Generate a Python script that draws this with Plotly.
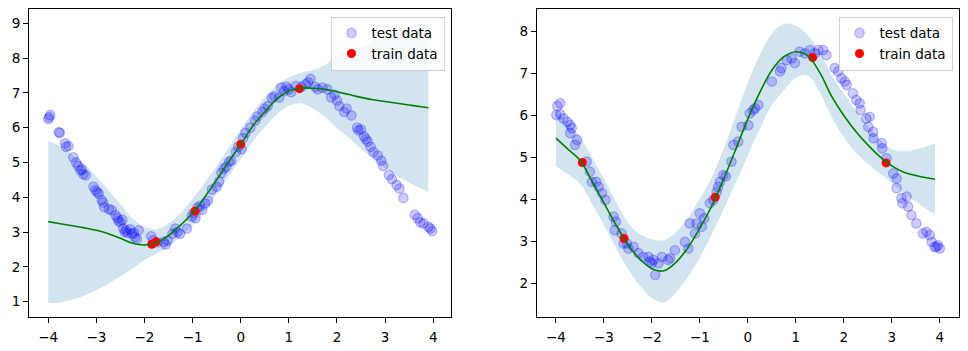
import plotly.graph_objects as go

# ---------------- data: left panel ----------------
left_test_x = [-4.0, -3.98, -3.96, -3.78, -3.76, -3.65, -3.63, -3.58, -3.48, -3.42, -3.38, -3.33, -3.3, -3.27,
               -3.22, -3.06, -3.02, -2.98, -2.95, -2.89, -2.86, -2.84, -2.74, -2.68, -2.6, -2.56, -2.54, -2.5,
               -2.46, -2.44, -2.41, -2.38, -2.35, -2.3, -2.26, -2.22, -2.2, -2.16, -2.12, -1.86, -1.82, -1.74,
               -1.6, -1.56, -1.52, -1.42, -1.36, -1.32, -1.26, -1.12, -1.02, -0.98, -0.94, -0.9, -0.85, -0.8,
               -0.74, -0.68, -0.6, -0.5, -0.45, -0.4, -0.35, -0.3, -0.24, -0.2, -0.1, -0.05, 0.02, 0.05, 0.1,
               0.2, 0.3, 0.35, 0.45, 0.5, 0.56, 0.65, 0.7, 0.8, 0.84, 0.9, 0.95, 1.0, 1.05, 1.15, 1.26, 1.35,
               1.4, 1.45, 1.55, 1.6, 1.7, 1.8, 1.88, 1.95, 2.0, 2.05, 2.15, 2.2, 2.3, 2.42, 2.45, 2.5, 2.56,
               2.6, 2.64, 2.7, 2.76, 2.85, 2.92, 2.96, 3.08, 3.14, 3.24, 3.3, 3.38, 3.62, 3.68, 3.73, 3.8, 3.9,
               3.94, 3.98]
left_test_y = [6.25, 6.3, 6.36, 5.87, 5.85, 5.55, 5.45, 5.47, 5.15, 5.0, 4.9, 4.77, 4.8, 4.66,
               4.63, 4.3, 4.2, 4.15, 4.1, 3.92, 3.85, 3.72, 3.66, 3.63, 3.48, 3.4, 3.32, 3.28,
               3.35, 3.1, 3.0, 3.05, 2.98, 3.08, 2.95, 2.97, 2.85, 2.8, 3.05, 2.88, 2.76, 2.7,
               2.72, 2.64, 2.76, 2.95, 3.1, 3.0, 2.95, 3.1, 3.45, 3.55, 3.4, 3.7, 3.75, 3.64,
               3.82, 3.9, 4.22, 4.3, 4.45, 4.7, 4.82, 4.88, 5.02, 5.05, 5.3, 5.45, 5.38, 5.7, 5.85,
               6.0, 6.2, 6.32, 6.45, 6.55, 6.62, 6.85, 6.9, 6.86, 7.15, 7.05, 7.18, 7.1, 7.02, 7.2, 7.17, 7.25,
               7.3, 7.4, 7.17, 7.1, 7.15, 7.1, 6.87, 6.95, 6.78, 6.62, 6.45, 6.55, 6.35, 6.0, 5.92, 5.95, 5.75,
               5.67, 5.6, 5.45, 5.3, 5.2, 5.05, 4.9, 4.64, 4.52, 4.35, 4.25, 3.98, 3.5, 3.4, 3.28, 3.25, 3.15,
               3.1, 3.03]
left_train_x = [-1.85, -1.76, -0.95, 0.0, 1.22]
left_train_y = [2.65, 2.72, 3.6, 5.52, 7.12]

grid_x = [-4.0, -3.75, -3.5, -3.25, -3.0, -2.75, -2.5, -2.25, -2.0, -1.75, -1.5, -1.25, -1.0, -0.75,
          -0.5, -0.25, 0.0, 0.25, 0.5, 0.75, 1.0, 1.25, 1.5, 1.75, 2.0, 2.25, 2.5, 2.75, 3.0, 3.25,
          3.5, 3.75, 3.9]
left_mean = [3.3, 3.24, 3.18, 3.12, 3.05, 2.95, 2.82, 2.68, 2.63, 2.7, 2.9, 3.2, 3.55, 4.0,
             4.5, 5.02, 5.52, 6.05, 6.45, 6.82, 7.05, 7.14, 7.13, 7.1, 7.03, 6.95, 6.87, 6.8, 6.75, 6.7,
             6.65, 6.6, 6.57]
left_upper = [5.62, 5.45, 5.22, 4.95, 4.6, 4.2, 3.8, 3.4, 3.15, 3.08, 3.25, 3.55, 3.95, 4.42,
              4.9, 5.42, 5.95, 6.45, 6.88, 7.22, 7.45, 7.58, 7.65, 7.8, 8.05, 8.2, 8.35, 8.5, 8.65, 8.78,
              8.88, 8.95, 8.98]
left_lower = [0.96, 0.98, 1.06, 1.18, 1.33, 1.52, 1.72, 1.95, 2.2, 2.38, 2.58, 2.85, 3.2, 3.6,
              4.1, 4.6, 5.1, 5.6, 6.02, 6.38, 6.62, 6.7, 6.55, 6.3, 6.0, 5.7, 5.4, 5.1, 4.85, 4.62,
              4.42, 4.25, 4.16]

# ---------------- data: right panel ----------------
right_test_x = [-3.99, -3.97, -3.91, -3.91, -3.84, -3.76, -3.7, -3.67, -3.7, -3.56, -3.6, -3.36, -3.29,
                -3.25, -3.16, -3.11, -3.04, -2.97, -2.8, -2.75, -2.77, -2.63, -2.59, -2.52, -2.49, -2.38,
                -2.28, -2.18, -2.07, -2.04, -1.97, -2.0, -1.93, -1.79, -1.86, -1.66, -1.62, -1.52, -1.31,
                -1.24, -1.21, -1.1, -1.07, -1.0, -0.96, -0.91, -0.79, -0.72, -0.65, -0.62, -0.58, -0.51,
                -0.46, -0.34, -0.3, -0.2, -0.13, 0.01, 0.04, 0.11, 0.15, 0.22, 0.5, 0.67, 0.7, 0.81, 0.91,
                0.98, 1.08, 1.19, 1.29, 1.4, 1.47, 1.57, 1.64, 1.81, 1.88, 1.95, 2.02, 2.06, 2.19, 2.26,
                2.33, 2.35, 2.47, 2.54, 2.51, 2.61, 2.62, 2.79, 2.8, 2.89, 3.03, 3.1, 3.1, 3.2, 3.22, 3.31,
                3.34, 3.41, 3.51, 3.65, 3.72, 3.79, 3.83, 3.89, 3.93, 3.96, 4.0]
right_test_y = [6.01, 6.23, 6.29, 6.03, 5.93, 5.85, 5.77, 5.7, 5.58, 5.42, 5.3, 4.9, 4.66,
                4.42, 4.42, 4.3, 4.15, 3.99, 3.59, 3.47, 3.27, 3.19, 2.95, 2.95, 2.83, 2.87,
                2.72, 2.63, 2.63, 2.52, 2.56, 2.48, 2.2, 2.63, 2.48, 2.56, 2.6, 2.79, 2.99,
                2.83, 3.43, 3.19, 3.43, 3.67, 3.35, 3.55, 3.91, 3.99, 4.18, 4.3, 4.42, 4.58,
                4.55, 4.9, 5.3, 5.38, 5.73, 5.77, 6.05, 6.13, 6.17, 6.25, 6.81, 7.05, 7.13, 7.32, 7.36,
                7.25, 7.52, 7.48, 7.56, 7.48, 7.56, 7.56, 7.44, 7.13, 7.05, 6.89, 6.81, 6.73, 6.53, 6.37,
                6.29, 6.13, 5.93, 5.97, 5.73, 5.61, 5.46, 5.34, 5.22, 4.98, 4.62, 4.5, 4.27, 4.03, 3.91, 4.07,
                3.83, 3.63, 3.43, 3.19, 3.23, 3.15, 2.99, 2.87, 2.87, 2.91, 2.83]
right_train_x = [-3.45, -2.58, -0.68, 1.35, 2.88]
right_train_y = [4.88, 3.07, 4.05, 7.38, 4.87]

right_mean = [5.46, 5.2, 4.94, 4.44, 3.92, 3.4, 2.92, 2.58, 2.35, 2.3, 2.5, 2.85, 3.32, 3.85,
              4.5, 5.2, 5.92, 6.55, 7.08, 7.4, 7.52, 7.42, 7.02, 6.45, 6.0, 5.62, 5.3, 5.02, 4.8, 4.65,
              4.57, 4.51, 4.48]
right_upper = [6.1, 5.8, 5.5, 5.0, 4.5, 3.95, 3.45, 3.17, 3.05, 3.03, 3.22, 3.55, 4.02, 4.53,
               5.22, 6.0, 6.78, 7.45, 7.95, 8.18, 8.14, 7.92, 7.5, 6.95, 6.52, 6.12, 5.75, 5.42, 5.2, 5.15,
               5.19, 5.28, 5.34]
right_lower = [4.8, 4.6, 4.38, 3.9, 3.4, 2.85, 2.35, 1.95, 1.65, 1.55, 1.78, 2.15, 2.62, 3.17,
               3.78, 4.4, 5.05, 5.68, 6.25, 6.6, 6.9, 6.95, 6.55, 5.95, 5.48, 5.12, 4.85, 4.62, 4.4, 4.15,
               3.95, 3.75, 3.65]

x_ticks = [-4, -3, -2, -1, 0, 1, 2, 3, 4]
left_y_ticks = [1, 2, 3, 4, 5, 6, 7, 8, 9]
right_y_ticks = [2, 3, 4, 5, 6, 7, 8]

# ---------------- styles ----------------
W, H = 968, 351
BAND = "rgba(31,119,180,0.2)"
TEST_FILL = "rgba(0,0,255,0.2)"
TEST_EDGE = "rgba(0,0,255,0.25)"
FONT = "DejaVu Sans"

fig = go.Figure()


def add_panel(xa, ya, legend, test_x, test_y, train_x, train_y, mean, upper, lower):
    fig.add_trace(go.Scatter(x=grid_x, y=lower, mode="lines", line=dict(width=0, shape="spline"),
                             showlegend=False, hoverinfo="skip", xaxis=xa, yaxis=ya))
    fig.add_trace(go.Scatter(x=grid_x, y=upper, mode="lines", line=dict(width=0, shape="spline"),
                             fill="tonexty", fillcolor=BAND, showlegend=False, hoverinfo="skip",
                             xaxis=xa, yaxis=ya))
    fig.add_trace(go.Scatter(x=test_x, y=test_y, mode="markers", name="test data",
                             marker=dict(size=9.5, color=TEST_FILL, line=dict(color=TEST_EDGE, width=1.2)),
                             xaxis=xa, yaxis=ya, legend=legend))
    fig.add_trace(go.Scatter(x=train_x, y=train_y, mode="markers", name="train data",
                             marker=dict(size=9, color="red", line=dict(width=0)),
                             xaxis=xa, yaxis=ya, legend=legend))
    fig.add_trace(go.Scatter(x=grid_x, y=mean, mode="lines", line=dict(color="green", width=1.6, shape="spline"),
                             showlegend=False, xaxis=xa, yaxis=ya))


add_panel("x", "y", "legend", left_test_x, left_test_y, left_train_x, left_train_y,
          left_mean, left_upper, left_lower)
add_panel("x2", "y2", "legend2", right_test_x, right_test_y, right_train_x, right_train_y,
          right_mean, right_upper, right_lower)

axis_common = dict(showline=True, linecolor="black", linewidth=1, mirror=True, showgrid=False,
                   zeroline=False, ticks="outside", ticklen=5, tickwidth=1, tickcolor="black",
                   tickfont=dict(family=FONT, size=13.5, color="black"))

legend_common = dict(yanchor="top", y=1 - 16.7 / H, xanchor="right", traceorder="normal",
                     bgcolor="rgba(255,255,255,0.8)", bordercolor="#d0d0d0", borderwidth=1,
                     font=dict(family=FONT, size=13.5, color="black"), tracegroupgap=0)

ydom = [1 - 317 / H, 1 - 9.3 / H]
fig.update_layout(
    width=W, height=H, margin=dict(l=0, r=0, t=0, b=0),
    paper_bgcolor="white", plot_bgcolor="white",
    xaxis=dict(domain=[29 / W, 451 / W], range=[-4.4, 4.37], tickvals=x_ticks, anchor="y",
               ticklabelstandoff=3, **axis_common),
    yaxis=dict(domain=ydom, range=[0.56, 9.40], tickvals=left_y_ticks, anchor="x", **axis_common),
    xaxis2=dict(domain=[536.7 / W, 959 / W], range=[-4.4, 4.4], tickvals=x_ticks, anchor="y2",
                ticklabelstandoff=3, **axis_common),
    yaxis2=dict(domain=ydom, range=[1.20, 8.53], tickvals=right_y_ticks, anchor="x2", **axis_common),
    legend=dict(x=444.5 / W, **legend_common),
    legend2=dict(x=952.5 / W, **legend_common),
    showlegend=True,
)

fig.write_html("out.html")
